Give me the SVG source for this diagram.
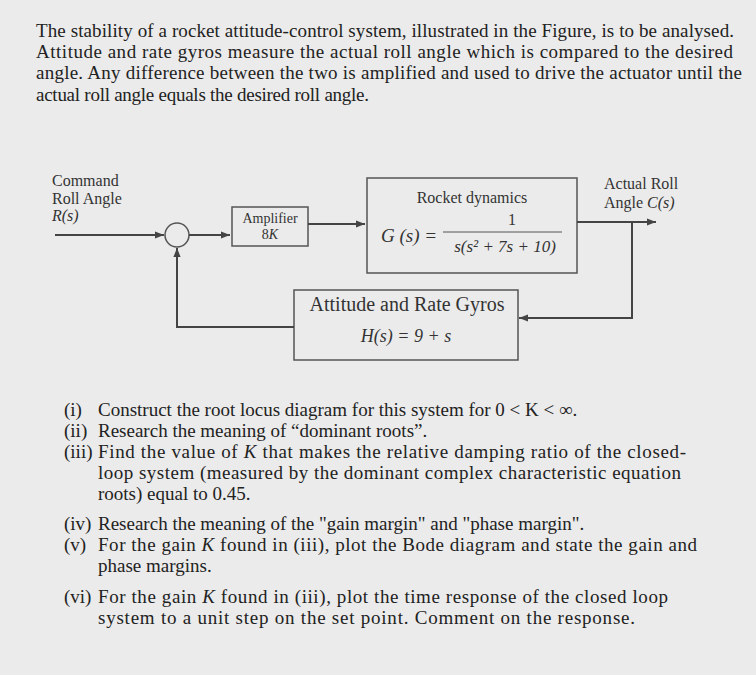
<svg xmlns="http://www.w3.org/2000/svg" width="756" height="675" viewBox="0 0 756 675">
<defs>
<marker id="ah" viewBox="0 0 10 10" refX="10" refY="5" markerWidth="9" markerHeight="9" orient="auto" markerUnits="userSpaceOnUse"><path d="M0,1 L10,5 L0,9 z" fill="#444"/></marker>
</defs>
<style>
text{font-family:"Liberation Serif",serif;fill:#222}
.p{font-size:19px}
.d{font-size:16px;fill:#333}
.box{fill:none;stroke:#555;stroke-width:1.5}
.ln{fill:none;stroke:#444;stroke-width:2}
</style>
<rect width="756" height="675" fill="#ebebeb"/>
<g class="p">
<text x="36" y="37" textLength="698">The stability of a rocket attitude-control system, illustrated in the Figure, is to be analysed.</text>
<text x="36" y="58" textLength="697">Attitude and rate gyros measure the actual roll angle which is compared to the desired</text>
<text x="36" y="79" textLength="706">angle. Any difference between the two is amplified and used to drive the actuator until the</text>
<text x="36" y="101" textLength="333">actual roll angle equals the desired roll angle.</text>
</g>
<g id="labels">
<text x="52" y="186" class="d">Command</text>
<text x="52" y="204" class="d">Roll Angle</text>
<text x="52" y="221" class="d" font-style="italic">R(s)</text>
<text x="604" y="189" class="d">Actual Roll</text>
<text x="604" y="208" class="d">Angle <tspan font-style="italic">C(s)</tspan></text>
</g>
<g id="sum"><circle cx="177" cy="235" r="12" class="box" stroke-width="2"/></g>
<g id="amp"><rect x="232" y="207" width="76" height="39" class="box"/>
<text x="270" y="223" class="d" style="font-size:14px" text-anchor="middle">Amplifier</text>
<text x="270" y="239" class="d" style="font-size:14px" text-anchor="middle">8<tspan font-style="italic">K</tspan></text></g>
<g id="rocket"><rect x="367" y="178" width="210" height="95" class="box"/>
<text x="472" y="203" class="d" text-anchor="middle">Rocket dynamics</text>
<text x="381" y="242" class="d" style="font-size:19px" font-style="italic">G (s) =</text>
<line x1="443" y1="232" x2="562" y2="232" stroke="#555"/>
<text x="512" y="225" class="d" text-anchor="middle">1</text>
<text x="505" y="252" class="d" style="font-size:17px" text-anchor="middle" font-style="italic">s(s² + 7s + 10)</text></g>
<g id="gyros"><rect x="294" y="290" width="224" height="70" class="box"/>
<text x="407" y="311" class="d" style="font-size:20px" text-anchor="middle">Attitude and Rate Gyros</text>
<text x="406" y="342" class="d" style="font-size:18px" text-anchor="middle" font-style="italic">H(s) = 9 + s</text></g>
<g id="connectors">
<path d="M55,235 H164" class="ln" marker-end="url(#ah)"/>
<path d="M189,235 H230" class="ln" marker-end="url(#ah)"/>
<path d="M308,224 H365" class="ln" marker-end="url(#ah)"/>
<path d="M577,222 H656" class="ln" marker-end="url(#ah)"/>
<path d="M632,222 V318 H519" class="ln" marker-end="url(#ah)"/>
<path d="M294,327 H177 V248" class="ln" marker-end="url(#ah)"/>
</g>
<g class="p">
<text x="64" y="416">(i)</text><text x="98" y="416">Construct the root locus diagram for this system for 0 &lt; K &lt; ∞.</text>
<text x="64" y="437">(ii)</text><text x="98" y="437">Research the meaning of “dominant roots”.</text>
<text x="64" y="458">(iii)</text><text x="98" y="458" textLength="588">Find the value of <tspan font-style="italic">K</tspan> that makes the relative damping ratio of the closed-</text>
<text x="98" y="479" textLength="583">loop system (measured by the dominant complex characteristic equation</text>
<text x="98" y="500">roots) equal to 0.45.</text>
<text x="64" y="530">(iv)</text><text x="98" y="530">Research the meaning of the "gain margin" and "phase margin".</text>
<text x="64" y="551">(v)</text><text x="98" y="551" textLength="599">For the gain <tspan font-style="italic">K</tspan> found in (iii), plot the Bode diagram and state the gain and</text>
<text x="98" y="572">phase margins.</text>
<text x="64" y="603">(vi)</text><text x="98" y="603" textLength="570">For the gain <tspan font-style="italic">K</tspan> found in (iii), plot the time response of the closed loop</text>
<text x="98" y="624" textLength="537">system to a unit step on the set point. Comment on the response.</text>
</g>
</svg>
